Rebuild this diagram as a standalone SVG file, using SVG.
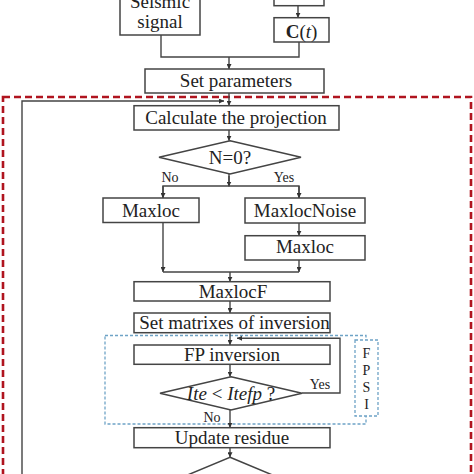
<svg xmlns="http://www.w3.org/2000/svg" width="474" height="474" viewBox="0 0 474 474">
<defs>
<marker id="ah" viewBox="0 0 10 10" refX="10" refY="5" markerWidth="5" markerHeight="5" orient="auto" markerUnits="userSpaceOnUse">
<path d="M0,0 L10,5 L0,10 Z" fill="#333"/>
</marker>
<style>
.box{fill:#fff;stroke:#444;stroke-width:1.5}
.t{font-family:"Liberation Serif","Times New Roman",serif;font-size:19px;fill:#222;text-anchor:middle}
.s{font-family:"Liberation Serif","Times New Roman",serif;font-size:14px;fill:#222;text-anchor:middle}
.c{fill:none;stroke:#444;stroke-width:1.4}
.a{fill:none;stroke:#444;stroke-width:1.4;marker-end:url(#ah)}
.red{fill:none;stroke:#b0141f;stroke-width:2.6;stroke-dasharray:7,4}
.blue{fill:none;stroke:#6ea3c6;stroke-width:1.3;stroke-dasharray:3,2}
</style>
</defs>
<rect width="474" height="474" fill="#fff"/>
<rect class="red" x="3" y="97" width="468" height="420"/>
<rect class="blue" x="105" y="335.5" width="261" height="88.5"/>
<g id="connectors">
<path class="c" d="M161,35 V57 H299 V42"/>
<path class="a" d="M298,6 V17.7"/>
<path class="a" d="M229,57 V69"/>
<path class="a" d="M229,93 V105.7"/>
<path class="a" d="M22,480 V101 H224"/>
<path class="a" d="M229,130 V140.7"/>
<path class="c" d="M229,174 V186"/>
<path class="a" d="M229,176 V186.5"/>
<path class="c" d="M163,198 V186 H299 V198"/>
<path class="a" d="M163,186 V198"/>
<path class="a" d="M299,186 V198"/>
<path class="a" d="M299,223 V235.7"/>
<path class="a" d="M163,223 V272"/>
<path class="a" d="M299,260 V272"/>
<path class="c" d="M163,272 H299"/>
<path class="a" d="M230,272 V281.7"/>
<path class="a" d="M230,301 V313"/>
<path class="a" d="M230,332.7 V345"/>
<path class="a" d="M302,393 H340 V338.3 H237"/>
<path class="a" d="M230,364.3 V376.7"/>
<path class="a" d="M230,410 V427.7"/>
<path class="a" d="M230,447.7 V457.3"/>
</g>
<g id="n_seismic"><rect class="box" x="120" y="-20" width="80" height="55"/>
<text class="t" x="160" y="8">Seismic</text><text class="t" x="160" y="28">signal</text></g>
<g id="n_top_right"><rect class="box" x="274" y="-20" width="50" height="25.7"/></g>
<g id="n_ct"><rect class="box" x="274" y="17.7" width="55" height="24.3"/>
<text class="t" x="301.5" y="37.5"><tspan font-weight="bold">C</tspan>(<tspan font-style="italic">t</tspan>)</text></g>
<g id="n_setparam"><rect class="box" x="145" y="69" width="179" height="24"/>
<text class="t" x="236" y="87">Set parameters</text></g>
<g id="n_calc"><rect class="box" x="134" y="105.7" width="205" height="24.3"/>
<text class="t" x="236" y="123.5">Calculate the projection</text></g>
<g id="n_n0"><polygon class="box" points="230,140.7 301,157.3 230,174 159,157.3"/>
<text class="t" x="230" y="164">N=0?</text></g>
<text class="s" x="170" y="182">No</text>
<text class="s" x="284" y="182">Yes</text>
<g id="n_maxloc1"><rect class="box" x="103" y="198" width="96" height="24.5"/>
<text class="t" x="151" y="216.5">Maxloc</text></g>
<g id="n_maxlocnoise"><rect class="box" x="245" y="198" width="120" height="25"/>
<text class="t" x="305" y="216.5">MaxlocNoise</text></g>
<g id="n_maxloc2"><rect class="box" x="245" y="235.7" width="120" height="24.3"/>
<text class="t" x="305" y="252.7">Maxloc</text></g>
<g id="n_maxlocf"><rect class="box" x="134" y="281.7" width="196" height="19.3"/>
<text class="t" x="233" y="297.5">MaxlocF</text></g>
<g id="n_setmat"><rect class="box" x="134" y="313" width="196" height="19.7"/>
<text class="t" x="234.5" y="329">Set matrixes of inversion</text></g>
<g id="n_fp"><rect class="box" x="134" y="345" width="196" height="19.3"/>
<text class="t" x="232" y="360.5">FP inversion</text></g>
<g id="n_ite"><polygon class="box" points="231,376.7 302,393.3 231,410 160,393.3"/>
<text class="t" x="231" y="400"><tspan font-style="italic">Ite</tspan> &lt; <tspan font-style="italic">Itefp</tspan> ?</text></g>
<text class="s" x="320" y="388.5">Yes</text>
<text class="s" x="212" y="422">No</text>
<g id="n_fpsi"><rect x="355" y="340" width="23" height="76" fill="#fff" stroke="#6ea3c6" stroke-width="1.3" stroke-dasharray="3,2"/>
<text class="s" x="366.5" y="358">F</text><text class="s" x="366.5" y="375">P</text><text class="s" x="366.5" y="392">S</text><text class="s" x="366.5" y="409">I</text></g>
<g id="n_update"><rect class="box" x="134" y="427.7" width="196" height="20"/>
<text class="t" x="232" y="443.5">Update residue</text></g>
<g id="n_bottom"><polygon class="box" points="230,457.3 302,487.3 230,517.3 158,487.3"/></g>
</svg>
